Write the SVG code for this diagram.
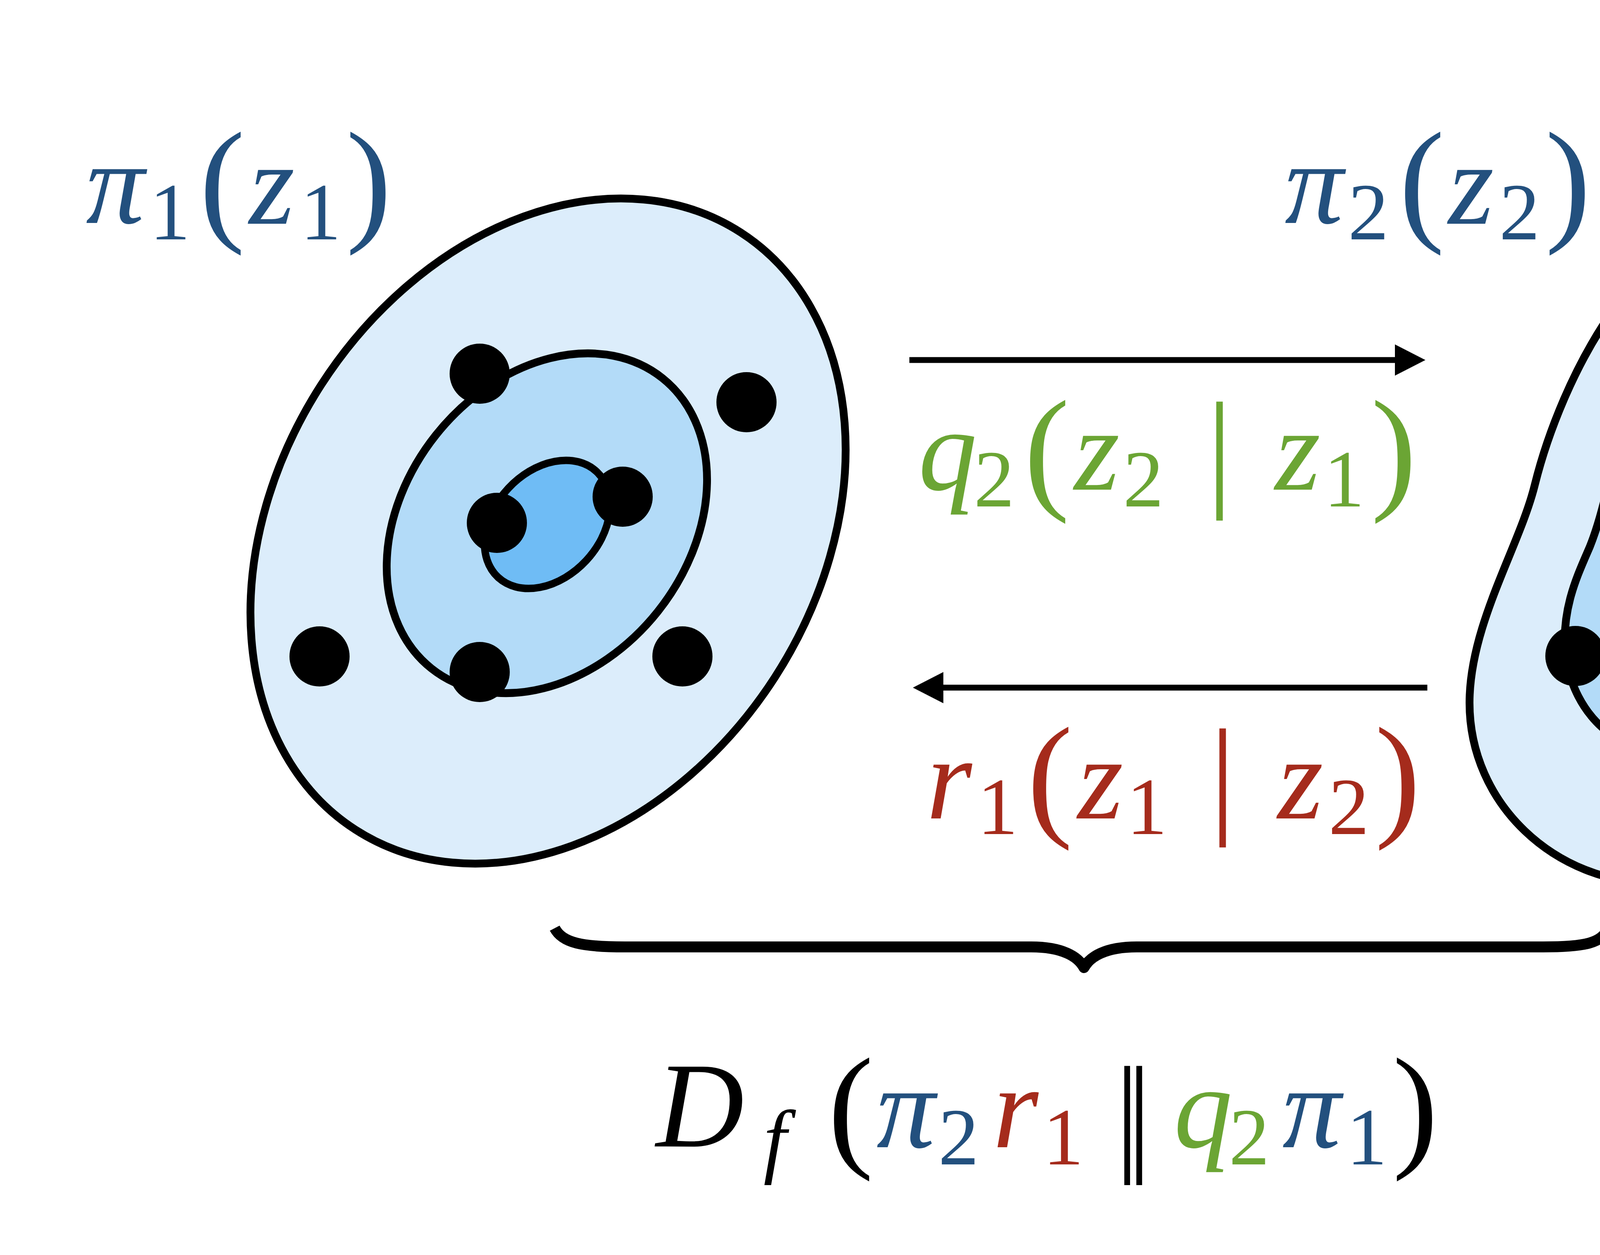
<svg xmlns="http://www.w3.org/2000/svg" width="5152" height="3214" viewBox="0 0 5152 3214">
<defs>
<style>
.bg{fill:#ffffff}
.c1{fill:#DCEDFB;stroke:#000;stroke-width:20}
.c2{fill:#B3DBF8;stroke:#000;stroke-width:20}
.c3{fill:#6FBCF5;stroke:#000;stroke-width:19}
.dot{fill:#000}
.t{font-family:'Liberation Serif','DejaVu Serif',serif;text-anchor:middle}
.i{font-style:italic;font-size:300px}
.D{font-style:italic;font-size:312px}
.s{font-size:208px}
.si{font-style:italic;font-size:212px}
.p{font-size:350px}
.bar{font-size:335px}
.dbar{font-size:440px}
.blue{fill:#23507E}
.green{fill:#6BA534}
.red{fill:#A52B1C}
.blk{fill:#000}
.arrow{stroke:#000;stroke-width:15;fill:none;marker-end:url(#ah)}
.brace{stroke:#000;stroke-width:28;fill:none;stroke-linejoin:round}
</style>
<marker id="ah" markerUnits="userSpaceOnUse" markerWidth="80" markerHeight="80" viewBox="0 0 80 80" refX="2" refY="40" orient="auto">
<path d="M0,0 L78,40 L0,80 Z" fill="#000"/>
</marker>
</defs>
<rect class="bg" x="0" y="0" width="5152" height="3214"/>

<g id="dist-left">
<ellipse class="c1" cx="1403" cy="1360" rx="691" ry="910" transform="rotate(32.8 1403 1360)"/>
<ellipse class="c2" cx="1400" cy="1340" rx="363" ry="475" transform="rotate(38.5 1400 1340)"/>
<ellipse class="c3" cx="1401" cy="1343" rx="136" ry="185" transform="rotate(43 1401 1343)"/>
<circle class="dot" cx="1228" cy="957" r="77"/>
<circle class="dot" cx="1911" cy="1030" r="77"/>
<circle class="dot" cx="1594" cy="1272" r="77"/>
<circle class="dot" cx="1272" cy="1339" r="77"/>
<circle class="dot" cx="818" cy="1681" r="77"/>
<circle class="dot" cx="1228" cy="1721" r="77"/>
<circle class="dot" cx="1747" cy="1681" r="77"/>
</g>

<g id="dist-right">
<path class="c1" d="M 4599 512 C 4880 512 5066 700 5066 940 C 5066 1150 4930 1400 4880 1560 C 4800 1820 4640 2263 4245 2263 C 3978 2263 3762 2057 3762 1800 C 3762 1600 3890 1400 3929 1242 C 3991 992 4200 512 4599 512 Z"/>
<path class="c2" d="M 4532 840 C 4700 840 4821 960 4821 1110 C 4821 1260 4740 1400 4700 1500 C 4650 1640 4620 1760 4520 1850 C 4450 1910 4380 1935 4300 1935 C 4140 1935 4030 1830 4008 1680 C 3995 1560 4040 1470 4070 1400 C 4110 1300 4120 1200 4160 1100 C 4220 950 4350 840 4532 840 Z"/>
<path class="c3" d="M 4451 1208 C 4515 1208 4555 1250 4551 1305 C 4548 1360 4515 1400 4500 1460 C 4480 1530 4440 1563 4379 1563 C 4315 1563 4272 1525 4274 1470 C 4276 1400 4300 1330 4330 1280 C 4360 1232 4400 1208 4451 1208 Z"/>
<circle class="dot" cx="4596" cy="723" r="77"/>
<circle class="dot" cx="4291" cy="1031" r="77"/>
<circle class="dot" cx="4576" cy="1220" r="77"/>
<circle class="dot" cx="4293" cy="1385" r="77"/>
<circle class="dot" cx="4643" cy="1493" r="77"/>
<circle class="dot" cx="4033" cy="1680" r="77"/>
<circle class="dot" cx="4445" cy="1878" r="77"/>
</g>

<g id="connectors">
<path class="arrow" d="M 2328 922 L 3573 922"/>
<path class="arrow" d="M 3654 1761 L 2413 1761"/>
</g>

<g id="label-pi1" class="blue">
<text class="t i" x="295" y="571">π</text>
<text class="t s" x="435" y="613">1</text>
<text class="t p" x="569" y="580">(</text>
<text class="t i" x="696" y="573">z</text>
<text class="t s" x="821" y="613">1</text>
<text class="t p" x="944" y="580">)</text>
</g>

<g id="label-pi2" class="blue">
<text class="t i" x="3364" y="571">π</text>
<text class="t s" x="3503" y="613">2</text>
<text class="t p" x="3640" y="580">(</text>
<text class="t i" x="3766" y="573">z</text>
<text class="t s" x="3890" y="613">2</text>
<text class="t p" x="4014" y="580">)</text>
</g>

<g id="label-q2" class="green">
<text class="t i" x="2426" y="1254">q</text>
<text class="t s" x="2545" y="1297">2</text>
<text class="t p" x="2680" y="1267">(</text>
<text class="t i" x="2808" y="1254">z</text>
<text class="t s" x="2927" y="1297">2</text>
<text class="t bar" x="3122" y="1261">|</text>
<text class="t i" x="3322" y="1254">z</text>
<text class="t s" x="3441" y="1297">1</text>
<text class="t p" x="3568" y="1267">)</text>
</g>

<g id="label-r1" class="red">
<text class="t i" x="2430" y="2096">r</text>
<text class="t s" x="2554" y="2136">1</text>
<text class="t p" x="2688" y="2104">(</text>
<text class="t i" x="2817" y="2096">z</text>
<text class="t s" x="2936" y="2136">1</text>
<text class="t bar" x="3130" y="2098">|</text>
<text class="t i" x="3329" y="2096">z</text>
<text class="t s" x="3453" y="2136">2</text>
<text class="t p" x="3578" y="2104">)</text>
</g>

<g id="brace">
<path class="brace" d="M 1420 2377 C 1440 2415 1490 2425 1600 2425 L 2640 2425 C 2720 2425 2760 2450 2775 2478 C 2790 2450 2830 2425 2910 2425 L 3950 2425 C 4060 2425 4100 2415 4117 2377"/>
</g>

<g id="formula">
<text class="t D blk" x="1792" y="2936">D</text>
<text class="t si blk" x="1984" y="2990">f</text>
<text class="t p blk" x="2178" y="2951">(</text>
<text class="t i blue" x="2319" y="2938">π</text>
<text class="t s blue" x="2454" y="2982">2</text>
<text class="t i red" x="2600" y="2938">r</text>
<text class="t s red" x="2722" y="2982">1</text>
<text class="t dbar blk" transform="translate(2901 3035) scale(0.7 1)">‖</text>
<text class="t i green" x="3080" y="2938">q</text>
<text class="t s green" x="3198" y="2982">2</text>
<text class="t i blue" x="3358" y="2938">π</text>
<text class="t s blue" x="3499" y="2982">1</text>
<text class="t p blk" x="3623" y="2951">)</text>
</g>
</svg>
